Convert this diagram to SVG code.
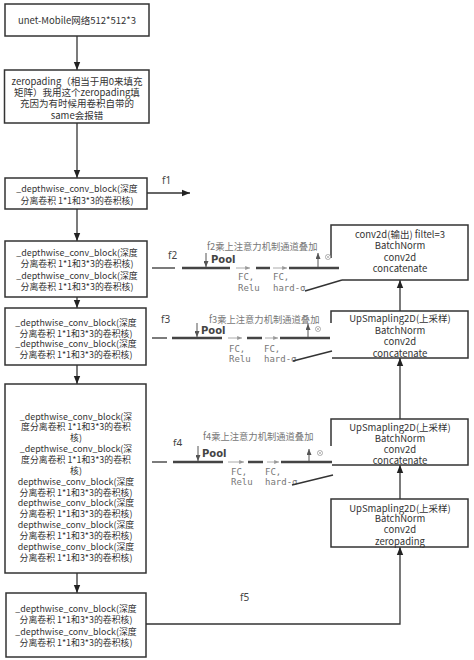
<svg xmlns="http://www.w3.org/2000/svg" width="474" height="660" viewBox="0 0 474 660">
<defs>
<marker id="ah" markerUnits="userSpaceOnUse" markerWidth="8" markerHeight="11" refX="10" refY="4" orient="auto" viewBox="0 0 10 8">
<path d="M0,0 L10,4 L0,8 Z" fill="#222"/>
</marker>
<marker id="gh" markerUnits="userSpaceOnUse" markerWidth="5" markerHeight="4" refX="6" refY="2.5" orient="auto" viewBox="0 0 6 5">
<path d="M0,0 L6,2.5 L0,5 Z" fill="#999"/>
</marker>
<marker id="sh" markerUnits="userSpaceOnUse" markerWidth="6" markerHeight="5" refX="6" refY="2.5" orient="auto" viewBox="0 0 6 5">
<path d="M0,0 L6,2.5 L0,5 Z" fill="#555"/>
</marker>
</defs>
<style>
.box{fill:#fff;stroke:#333;stroke-width:1.5}
.t{font-family:"Noto Sans CJK SC","Noto Sans",sans-serif;font-size:9.5px;fill:#333;text-anchor:middle}
.d{font-size:8.9px}
.lbl{font-family:"Noto Sans","Noto Sans CJK SC",sans-serif;font-size:10px;fill:#444}
.ttl{font-family:"Noto Sans CJK SC","Noto Sans",sans-serif;font-size:9.3px;fill:#777}
.pool{font-family:"DejaVu Sans",sans-serif;font-size:10px;font-weight:bold;fill:#444}
.fc{font-family:"DejaVu Sans Mono",monospace;font-size:9px;fill:#777}
.cn{fill:none;stroke:#333;stroke-width:1.3}
.thick{stroke:#444;stroke-width:2.5;fill:none}
.ga{stroke:#aaa;stroke-width:1;fill:none}
.dg{stroke:#333;stroke-width:1.5;fill:none}
.wh{fill:#fff;stroke:none}
</style>
<rect width="474" height="660" fill="#fff"/>

<g id="connectors">
<line class="cn" x1="77" y1="36" x2="77" y2="70" marker-end="url(#ah)"/>
<line class="cn" x1="77" y1="123" x2="77" y2="178" marker-end="url(#ah)"/>
<line class="cn" x1="77" y1="209" x2="77" y2="241" marker-end="url(#ah)"/>
<line class="cn" x1="77" y1="297" x2="77" y2="308" marker-end="url(#ah)"/>
<line class="cn" x1="77" y1="365" x2="77" y2="384" marker-end="url(#ah)"/>
<line class="cn" x1="77" y1="573" x2="77" y2="593" marker-end="url(#ah)"/>
<line class="cn" x1="147" y1="193" x2="190" y2="193" marker-end="url(#ah)"/>
<line class="cn" x1="152" y1="268" x2="175" y2="268"/>
<line class="cn" x1="152" y1="338" x2="167" y2="338"/>
<line class="cn" x1="152" y1="462" x2="167" y2="462"/>
<polyline class="cn" points="146,624 400,624 400,547" marker-end="url(#ah)"/>
<line class="cn" x1="400" y1="499" x2="400" y2="465" marker-end="url(#ah)"/>
<line class="cn" x1="400" y1="419" x2="400" y2="358" marker-end="url(#ah)"/>
<line class="cn" x1="400" y1="311" x2="400" y2="280" marker-end="url(#ah)"/>
<text class="lbl" x="162" y="184">f1</text>
<text class="lbl" x="168" y="259">f2</text>
<text class="lbl" x="161" y="323">f3</text>
<text class="lbl" x="173" y="447">f4</text>
<text class="lbl" x="240" y="601">f5</text>
</g>

<g id="n1">
<rect class="box" x="5" y="4" width="144" height="32"/>
<text class="t" x="77" y="23.5">unet-Mobile网络512*512*3</text>
</g>
<g id="n2">
<rect class="box" x="4.5" y="70" width="144.5" height="53"/>
<text class="t" x="77" y="84.5">zeropading（相当于用0来填充</text>
<text class="t" x="77" y="95.5">矩阵）我用这个zeropading填</text>
<text class="t" x="77" y="107">充因为有时候用卷积自带的</text>
<text class="t" x="77" y="118.5">same会报错</text>
</g>
<g id="n3">
<rect class="box" x="5" y="178" width="142" height="31"/>
<text class="t d" x="77" y="191.5">_depthwise_conv_block(深度</text>
<text class="t d" x="77" y="203.5">分离卷积 1*1和3*3的卷积核)</text>
</g>
<g id="n4">
<rect class="box" x="5" y="241" width="142" height="56"/>
<text class="t d" x="77" y="255.5">_depthwise_conv_block(深度</text>
<text class="t d" x="77" y="267">分离卷积 1*1和3*3的卷积核)</text>
<text class="t d" x="77" y="278.5">_depthwise_conv_block(深度</text>
<text class="t d" x="77" y="290">分离卷积 1*1和3*3的卷积核)</text>
</g>
<g id="n5">
<rect class="box" x="5" y="308" width="141" height="57"/>
<text class="t d" x="76" y="326">_depthwise_conv_block(深度</text>
<text class="t d" x="76" y="336.5">分离卷积 1*1和3*3的卷积核)</text>
<text class="t d" x="76" y="347">_depthwise_conv_block(深度</text>
<text class="t d" x="76" y="357.5">分离卷积 1*1和3*3的卷积核)</text>
</g>
<g id="n6">
<rect class="box" x="5" y="384" width="141" height="189"/>
<text class="t d" x="76" y="419.5">_depthwise_conv_block(深</text>
<text class="t d" x="76" y="430.4">度分离卷积 1*1和3*3的卷积</text>
<text class="t d" x="76" y="441.2">核)</text>
<text class="t d" x="76" y="452">_depthwise_conv_block(深</text>
<text class="t d" x="76" y="462.9">度分离卷积 1*1和3*3的卷积</text>
<text class="t d" x="76" y="473.8">核)</text>
<text class="t d" x="76" y="484.6">depthwise_conv_block(深度</text>
<text class="t d" x="76" y="495.5">分离卷积 1*1和3*3的卷积核)</text>
<text class="t d" x="76" y="506.3">depthwise_conv_block(深度</text>
<text class="t d" x="76" y="517.2">分离卷积 1*1和3*3的卷积核)</text>
<text class="t d" x="76" y="528">depthwise_conv_block(深度</text>
<text class="t d" x="76" y="538.9">分离卷积 1*1和3*3的卷积核)</text>
<text class="t d" x="76" y="549.7">depthwise_conv_block(深度</text>
<text class="t d" x="76" y="560.6">分离卷积 1*1和3*3的卷积核)</text>
</g>
<g id="n7">
<rect class="box" x="6" y="593" width="140" height="64"/>
<text class="t d" x="76" y="611.5">_depthwise_conv_block(深度</text>
<text class="t d" x="76" y="623">分离卷积 1*1和3*3的卷积核)</text>
<text class="t d" x="76" y="634.5">_depthwise_conv_block(深度</text>
<text class="t d" x="76" y="646">分离卷积 1*1和3*3的卷积核)</text>
</g>

<g id="r1">
<rect class="box" x="331" y="225" width="137" height="55"/>
<text class="t" x="400" y="238">conv2d(输出) filtel=3</text>
<text class="t" x="400" y="249.3">BatchNorm</text>
<text class="t" x="400" y="260.6">conv2d</text>
<text class="t" x="400" y="271.9">concatenate</text>
</g>
<g id="r2">
<rect class="box" x="331" y="311" width="137" height="47"/>
<text class="t" x="400" y="322">UpSmapling2D(上采样)</text>
<text class="t" x="400" y="333.5">BatchNorm</text>
<text class="t" x="400" y="345">conv2d</text>
<text class="t" x="400" y="356.5">concatenate</text>
</g>
<g id="r3">
<rect class="box" x="331" y="419" width="137" height="46"/>
<text class="t" x="400" y="430.5">UpSmapling2D(上采样)</text>
<text class="t" x="400" y="441.5">BatchNorm</text>
<text class="t" x="400" y="452.5">conv2d</text>
<text class="t" x="400" y="464">concatenate</text>
</g>
<g id="r4">
<rect class="box" x="331" y="499" width="137" height="48"/>
<text class="t" x="400" y="511.5">UpSmapling2D(上采样)</text>
<text class="t" x="400" y="522">BatchNorm</text>
<text class="t" x="400" y="533">conv2d</text>
<text class="t" x="400" y="544.5">zeropading</text>
</g>

<g id="att2">
<rect class="wh" x="178" y="258" width="164" height="37"/>
<text class="ttl" x="207" y="250">f2乘上注意力机制通道叠加</text>
<line class="thick" x1="182" y1="268" x2="230" y2="268"/>
<line x1="206" y1="253" x2="206" y2="267" stroke="#555" stroke-width="1" marker-end="url(#sh)"/>
<text class="pool" x="211" y="263">Pool</text>
<line class="ga" x1="236" y1="268" x2="250" y2="268" marker-end="url(#gh)"/>
<line class="thick" x1="256" y1="268" x2="270" y2="268"/>
<line class="ga" x1="273" y1="268" x2="287" y2="268" marker-end="url(#gh)"/>
<line class="thick" x1="289" y1="268" x2="339" y2="268"/>
<line x1="318" y1="267" x2="318" y2="253" stroke="#555" stroke-width="1" marker-end="url(#sh)"/>
<circle cx="328" cy="257" r="2.6" fill="none" stroke="#aaa" stroke-width="0.8"/>
<path d="M326.2,255.2 L329.8,258.8 M329.8,255.2 L326.2,258.8" stroke="#aaa" stroke-width="0.7"/>
<text class="fc" x="238" y="280">FC,</text>
<text class="fc" x="238" y="291">Relu</text>
<text class="fc" x="273" y="280">FC,</text>
<text class="fc" x="273" y="291">hard-σ</text>
<line class="dg" x1="305" y1="291" x2="342" y2="280"/>
</g>

<g id="att3">
<rect class="wh" x="168" y="323" width="164" height="42"/>
<text class="ttl" x="209" y="323">f3乘上注意力机制通道叠加</text>
<line class="thick" x1="172" y1="338" x2="222" y2="338"/>
<line x1="197" y1="323" x2="197" y2="337" stroke="#555" stroke-width="1" marker-end="url(#sh)"/>
<text class="pool" x="201" y="334">Pool</text>
<line class="ga" x1="228" y1="338" x2="242" y2="338" marker-end="url(#gh)"/>
<line class="thick" x1="247" y1="338" x2="262" y2="338"/>
<line class="ga" x1="265" y1="338" x2="278" y2="338" marker-end="url(#gh)"/>
<line class="thick" x1="280" y1="338" x2="330" y2="338"/>
<line x1="308" y1="337" x2="308" y2="324" stroke="#555" stroke-width="1" marker-end="url(#sh)"/>
<circle cx="318" cy="329" r="2.6" fill="none" stroke="#aaa" stroke-width="0.8"/>
<path d="M316.2,327.2 L319.8,330.8 M319.8,327.2 L316.2,330.8" stroke="#aaa" stroke-width="0.7"/>
<text class="fc" x="229" y="352">FC,</text>
<text class="fc" x="229" y="362">Relu</text>
<text class="fc" x="264" y="352">FC,</text>
<text class="fc" x="264" y="362">hard-σ</text>
<line class="dg" x1="293" y1="361" x2="332" y2="351"/>
</g>

<g id="att4">
<rect class="wh" x="168" y="446" width="164" height="44"/>
<text class="ttl" x="203" y="440">f4乘上注意力机制通道叠加</text>
<line class="thick" x1="173" y1="462" x2="223" y2="462"/>
<line x1="198" y1="446" x2="198" y2="461" stroke="#555" stroke-width="1" marker-end="url(#sh)"/>
<text class="pool" x="202" y="457">Pool</text>
<line class="ga" x1="228" y1="462" x2="244" y2="462" marker-end="url(#gh)"/>
<line class="thick" x1="248" y1="462" x2="263" y2="462"/>
<line class="ga" x1="267" y1="462" x2="279" y2="462" marker-end="url(#gh)"/>
<line class="thick" x1="281" y1="462" x2="332" y2="462"/>
<line x1="309" y1="461" x2="309" y2="449" stroke="#555" stroke-width="1" marker-end="url(#sh)"/>
<circle cx="320" cy="453" r="2.6" fill="none" stroke="#aaa" stroke-width="0.8"/>
<path d="M318.2,451.2 L321.8,454.8 M321.8,451.2 L318.2,454.8" stroke="#aaa" stroke-width="0.7"/>
<text class="fc" x="231" y="475">FC,</text>
<text class="fc" x="231" y="485">Relu</text>
<text class="fc" x="265" y="475">FC,</text>
<text class="fc" x="265" y="485">hard-σ</text>
<line class="dg" x1="292" y1="485" x2="333" y2="475"/>
</g>
</svg>
